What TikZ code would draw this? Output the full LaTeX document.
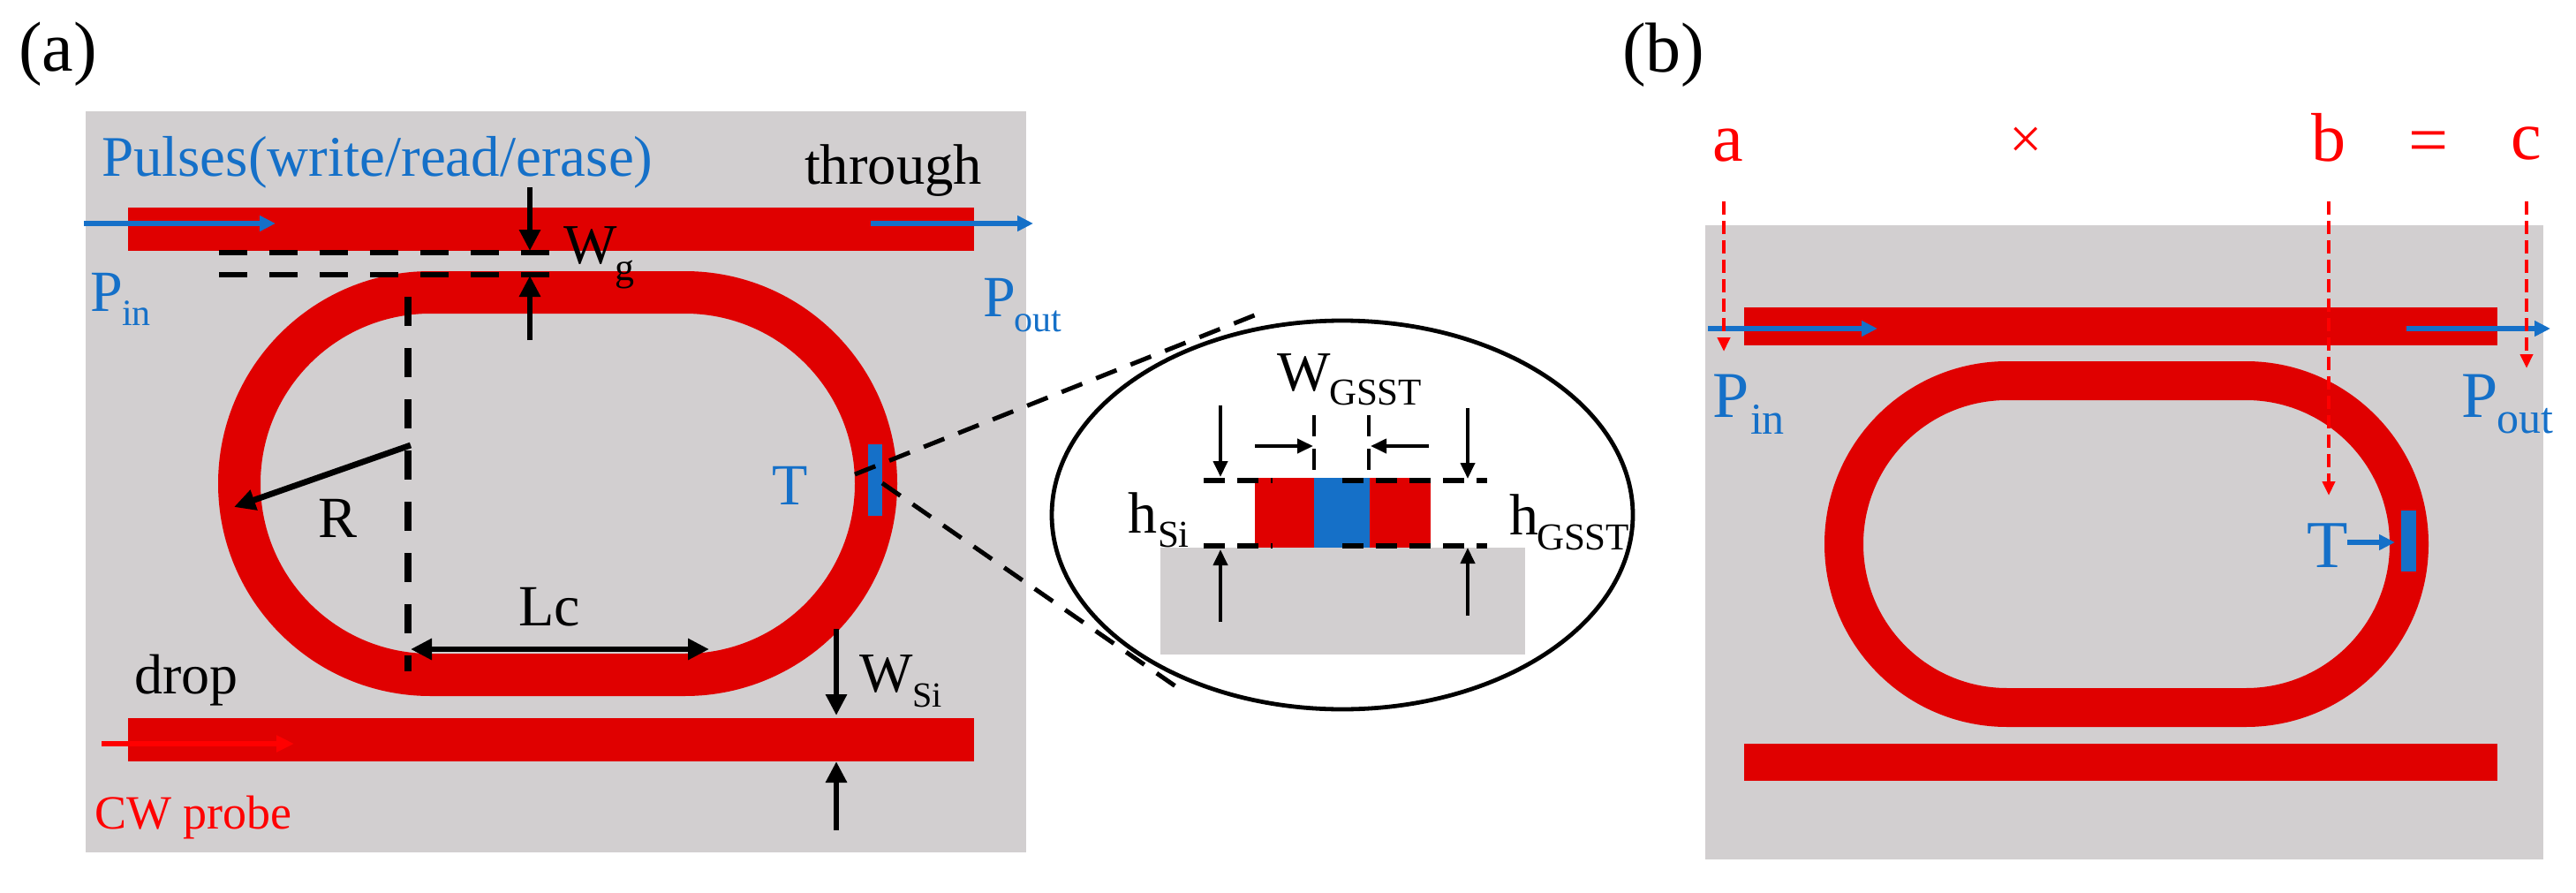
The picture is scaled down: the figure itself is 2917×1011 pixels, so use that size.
\documentclass[tikz,border=0pt]{standalone}
\usepackage{fontspec}
\setmainfont{Liberation Serif}
\usetikzlibrary{arrows.meta,shapes.geometric}
\definecolor{wgred}{HTML}{E00000}
\definecolor{gstblue}{HTML}{1570C8}
\definecolor{subgray}{HTML}{D2CFD0}
\definecolor{txtred}{HTML}{FF0000}
\newcommand{\fs}[1]{\fontsize{#1}{#1}\selectfont}
\tikzset{
 panel/.style={fill=subgray,draw=none},
 wg/.style={fill=wgred,draw=none},
 gsst/.style={fill=gstblue,draw=none},
 dimarrow/.style={draw=black,line width=3.4pt,-{Triangle[length=12pt,width=11.5pt]}},
 thinarrow/.style={draw=black,line width=2pt,-{Triangle[length=9pt,width=8pt]}},
 bluearrow/.style={draw=gstblue,line width=2.8pt,-{Triangle[length=9pt,width=8.5pt]}},
 redarrow/.style={draw=txtred,line width=2.8pt,-{Triangle[length=10pt,width=9pt]}},
 reddash/.style={draw=txtred,line width=2.2pt,dash pattern=on 7.5pt off 3.5pt,-{Triangle[length=8pt,width=7pt]}},
 blackdash/.style={draw=black,line width=3.4pt,dash pattern=on 16pt off 12.5pt},
 centerdash/.style={draw=black,line width=3.8pt,dash pattern=on 16.5pt off 12.5pt},
 vdash/.style={draw=black,line width=2.4pt,dash pattern=on 12pt off 7pt},
 crossdash/.style={draw=black,line width=3.2pt,dash pattern=on 12pt off 7pt},
 zoomdash/.style={draw=black,line width=2.5pt,dash pattern=on 12.5pt off 8.5pt},
 lbl/.style={inner sep=0pt,outer sep=0pt,anchor=base west},
 mid/.style={inner sep=0pt,outer sep=0pt,anchor=base},
}
\begin{document}
\begin{tikzpicture}[x=0.5pt,y=-0.5pt]
\useasboundingbox (0,0) rectangle (2917,1011);
% panel a
\fill[panel] (97,126) rectangle (1162,965);
\fill[wg] (145,235) rectangle (1103,284);
\fill[wg] (145,813) rectangle (1103,862);
\draw[wgred,line width=24pt,rounded corners=108.2pt] (271,331) rectangle (992,764);
\fill[gsst] (983,503) rectangle (999,584);
% panel b
\fill[panel] (1931,255) rectangle (2880,973);
\fill[wg] (1975,348) rectangle (2828,391);
\fill[wg] (1975,842) rectangle (2828,884);
\draw[wgred,line width=22pt,rounded corners=92.4pt] (2088,431) rectangle (2728,801);
\fill[gsst] (2719,578) rectangle (2736,647);
% zoom ellipse
\node[draw=black,fill=white,line width=2.4pt,ellipse,inner sep=0pt,minimum width=329pt,minimum height=220pt] (zoomell) at (1520,583) {};
\fill[panel] (1314,620) rectangle (1727,741);
\fill[wg] (1421,541) rectangle (1620,620);
\fill[gsst] (1488,541) rectangle (1551,620);
% zoom guides
\coordinate (ta) at (968,537); \coordinate (tb) at (1428,354);
\coordinate (tc) at (999,547); \coordinate (td) at (1337,781);
\draw[zoomdash] (ta) -- (tb);
\draw[zoomdash] (tc) -- (td);
% text panel a
\node[lbl,font=\fs{40}] (lba) at (21,81) {(a)};
\node[lbl,font=\fs{40}] (lbb) at (1837,82) {(b)};
\node[lbl,gstblue,font=\fs{32.5}] (pulses) at (115,199) {Pulses(write/read/erase)};
\node[lbl,font=\fs{32.3}] (through) at (911,208) {through};
\node[lbl,gstblue,font=\fs{33}] (pina) at (102,352) {P};
\node[lbl,gstblue,font=\fs{21}] (pinas) at (138,368) {in};
\node[lbl,gstblue,font=\fs{33}] (pouta) at (1113,358) {P};
\node[lbl,gstblue,font=\fs{21}] (poutas) at (1148,375) {out};
\node[lbl,font=\fs{32}] (wg) at (638,298) {W};
\node[lbl,font=\fs{22}] (wgs) at (696,317) {g};
\node[mid,gstblue,font=\fs{33}] (ta1) at (895,571) {T};
\node[lbl,font=\fs{33}] (rl) at (360,608) {R};
\node[lbl,font=\fs{33}] (lc) at (587,708) {Lc};
\node[lbl,font=\fs{32}] (wsi) at (973,783) {W};
\node[lbl,font=\fs{20}] (wsis) at (1033,800) {Si};
\node[lbl,font=\fs{32}] (drop) at (152,785) {drop};
\node[lbl,txtred,font=\fs{27}] (cw) at (107,938) {CW probe};
% black dims panel a
\coordinate (d1) at (248,286); \coordinate (d2) at (622,286);
\coordinate (d3) at (248,311); \coordinate (d4) at (622,311);
\draw[blackdash] (d1) -- (d2);
\draw[blackdash] (d3) -- (d4);
\coordinate (w1) at (600,212); \coordinate (w2) at (600,284);
\coordinate (w3) at (600,385); \coordinate (w4) at (600,312);
\draw[dimarrow] (w1) -- (w2);
\draw[dimarrow] (w3) -- (w4);
\coordinate (v1) at (462,336); \coordinate (v2) at (462,760);
\draw[centerdash] (v1) -- (v2);
\coordinate (rc) at (465,504); \coordinate (rt) at (265,574);
\draw[dimarrow] (rc) -- (rt);
\coordinate (lc1) at (465,735); \coordinate (lc2) at (803,735);
\draw[dimarrow,{Triangle[length=12pt,width=11.5pt]}-{Triangle[length=12pt,width=11.5pt]}] (lc1) -- (lc2);
\coordinate (s1) at (947,712); \coordinate (s2) at (947,810);
\coordinate (s3) at (947,940); \coordinate (s4) at (947,862);
\draw[dimarrow] (s1) -- (s2);
\draw[dimarrow] (s3) -- (s4);
% coloured arrows panel a
\coordinate (ba1) at (95,253); \coordinate (ba2) at (312,253);
\coordinate (ba3) at (986,253); \coordinate (ba4) at (1170,253);
\coordinate (ra1) at (115,842); \coordinate (ra2) at (333,842);
\draw[bluearrow] (ba1) -- (ba2);
\draw[bluearrow] (ba3) -- (ba4);
\draw[redarrow] (ra1) -- (ra2);
% cross-section
\coordinate (c1) at (1363,544); \coordinate (c2) at (1441,544);
\coordinate (c3) at (1520,544); \coordinate (c4) at (1684,544);
\coordinate (c5) at (1363,618); \coordinate (c6) at (1441,618);
\coordinate (c7) at (1520,618); \coordinate (c8) at (1684,618);
\foreach \p/\q in {c1/c2,c3/c4,c5/c6,c7/c8} \draw[crossdash] (\p) -- (\q);
\coordinate (g1) at (1488,470); \coordinate (g2) at (1488,538);
\coordinate (g3) at (1550,470); \coordinate (g4) at (1550,538);
\draw[vdash] (g1) -- (g2);
\draw[vdash] (g3) -- (g4);
\coordinate (e1) at (1382,459); \coordinate (e2) at (1382,540);
\coordinate (e3) at (1382,704); \coordinate (e4) at (1382,622);
\coordinate (e5) at (1662,462); \coordinate (e6) at (1662,542);
\coordinate (e7) at (1662,697); \coordinate (e8) at (1662,620);
\coordinate (e9) at (1421,505); \coordinate (e10) at (1487,505);
\coordinate (e11) at (1618,505); \coordinate (e12) at (1552,505);
\foreach \p/\q in {e1/e2,e3/e4,e5/e6,e7/e8,e9/e10,e11/e12} \draw[thinarrow] (\p) -- (\q);
\node[lbl,font=\fs{32}] (wgsst) at (1446,442) {W};
\node[lbl,font=\fs{21.5}] (wgssts) at (1505,458) {GSST};
\node[lbl,font=\fs{33}] (hsi) at (1277,603) {h};
\node[lbl,font=\fs{21.5}] (hsis) at (1311,619) {Si};
\node[lbl,font=\fs{33}] (hg) at (1709,605) {h};
\node[lbl,font=\fs{21.5}] (hgs) at (1740,622) {GSST};
% panel b text
\node[mid,txtred,font=\fs{39}] (a1) at (1957,183) {a};
\node[mid,txtred,font=\fs{33}] (times) at (2294,179) {×};
\node[mid,txtred,font=\fs{39}] (b1) at (2637,182) {b};
\node[mid,txtred,font=\fs{40}] (eq) at (2750,185) {=};
\node[mid,txtred,font=\fs{39}] (c1t) at (2861,180) {c};
\coordinate (bb1) at (1934,372); \coordinate (bb2) at (2126,372);
\coordinate (bb3) at (2725,372); \coordinate (bb4) at (2888,372);
\draw[bluearrow] (bb1) -- (bb2);
\draw[bluearrow] (bb3) -- (bb4);
\coordinate (rd1) at (1952,228); \coordinate (rd2) at (1952,398);
\coordinate (rd3) at (2637,228); \coordinate (rd4) at (2637,561);
\coordinate (rd5) at (2861,228); \coordinate (rd6) at (2861,417);
\draw[reddash] (rd1) -- (rd2);
\draw[reddash] (rd3) -- (rd4);
\draw[reddash] (rd5) -- (rd6);
\node[lbl,gstblue,font=\fs{37}] (pinb) at (1939,472) {P};
\node[lbl,gstblue,font=\fs{25}] (pinbs) at (1982,491) {in};
\node[lbl,gstblue,font=\fs{37}] (poutb) at (2787,472) {P};
\node[lbl,gstblue,font=\fs{25}] (poutbs) at (2827,490) {out};
\node[mid,gstblue,font=\fs{38}] (tb1) at (2636,642) {T};
\coordinate (ta2) at (2658,614); \coordinate (tb2) at (2712,614);
\draw[bluearrow] (ta2) -- (tb2);
\end{tikzpicture}
\end{document}
